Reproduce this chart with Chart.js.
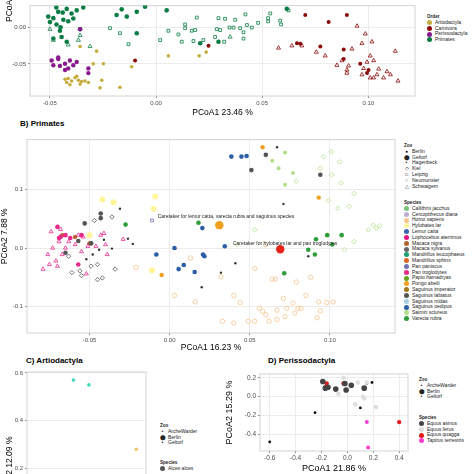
<!DOCTYPE html>
<html><head><meta charset="utf-8">
<script src="https://cdn.jsdelivr.net/npm/chart.js@4"></script>
<style>
body{margin:0;width:474px;height:474px;overflow:hidden;background:#fff;font-family:"Liberation Sans",Arial,sans-serif;position:relative}
canvas{position:absolute}
.t{position:absolute;font-weight:bold;font-size:8px;color:#000;white-space:nowrap}
.lg{position:absolute;font-size:5px;color:#222;white-space:nowrap;line-height:5.8px}
.lg b{font-size:4.6px}
.lg i{display:inline-block;width:5px;height:5px;border-radius:50%;margin-right:3px;vertical-align:middle;font-style:normal}
.rot{position:absolute;transform:rotate(-90deg);transform-origin:left top;font-size:8.5px;white-space:nowrap;color:#000}
</style></head><body>
<canvas id="cA"></canvas><canvas id="cB"></canvas><canvas id="cC"></canvas><canvas id="cD"></canvas>
<div class="rot" style="left:4px;top:22px">PCoA2 13.52 %</div>
<div class="rot" style="left:4px;top:497px">PCoA2 12.09 %</div>
<div class="t" style="left:20px;top:119px">B) Primates</div>
<div class="t" style="left:26px;top:356px">C) Artiodactyla</div>
<div class="t" style="left:268px;top:356px">D) Perissodactyla</div>
<div id="legends"></div>
<script>
// ---------- Panel A data (order) ----------
const orderNames = ["Artiodactyla","Carnivora","Perissodactyla","Primates"];
const orderColors = ["#c4ad3d","#8b0a0a","#8a1a8f","#0a7d45"];
const primFilled = [[-0.0508,0.0145],[-0.0484,0.0124],[-0.0461,0.021],[-0.0437,0.0103],[-0.0469,0.0038],[-0.0421,0.025],[-0.0398,0.0188],[-0.0453,-0.0047],[-0.0414,0.0081],[-0.0374,0.023],[-0.0445,-0.0132],[-0.0343,0.027],[-0.0484,-0.0154],[-0.0421,-0.0197],[-0.0358,-0.0026],[-0.0162,0.0244],[-0.0091,0.021],[-0.0052,0.028],[0.005,0.023],[0.0208,-0.0218],[0.0294,-0.0197],[0.0616,0.0252],[-0.0186,0.0167],[-0.0138,0.0145],[-0.0091,-0.0081],[-0.047,0.027],[-0.044,0.02],[-0.05,0.007],[-0.039,0.012],[-0.045,0.0]];
const primSquares = [[-0.0217,-0.0013],[-0.017,-0.0081],[-0.013,-0.0231],[0.0019,-0.0175],[0.0058,-0.0047],[0.0105,-0.0098],[0.0121,-0.0197],[0.0137,0.0038],[0.0137,-0.0013],[0.0168,-0.0047],[0.0184,-0.0038],[0.0192,0.0132],[0.0176,-0.0188],[0.0223,-0.0175],[0.0286,-0.0026],[0.0294,0.0124],[0.0325,0.0115],[0.0302,-0.0038],[0.0278,-0.0132],[0.0321,-0.0197],[0.0346,-0.0004],[0.0365,-0.0004],[0.0373,0.0103],[0.0396,-0.0013],[0.0412,-0.0068],[0.0421,0.0175],[0.0428,0.003],[0.0451,-0.0004],[0.0481,0.006],[0.0528,0.0081],[0.0538,0.0188],[0.0528,0.0124],[0.0585,0.009],[0.0589,0.0038],[0.0624,0.023],[0.0412,-0.0154]];
const primTriangles = [[0.0349,-0.0132],[-0.0311,-0.0261],[-0.0414,-0.0239],[-0.0484,-0.0175],[-0.05,-0.0026],[-0.0358,-0.0111],[-0.0366,-0.0175]];
const carnTriangles = [[0.0577,-0.0282],[0.064,-0.0252],[0.0687,-0.0252],[0.0755,-0.0338],[0.0797,-0.0389],[0.0852,-0.0517],[0.0876,-0.0453],[0.0899,-0.0581],[0.0907,-0.0526],[0.0923,-0.0295],[0.0947,0.0017],[0.097,-0.0218],[0.0986,-0.009],[0.1009,-0.0389],[0.1017,-0.0197],[0.0994,-0.0474],[0.1025,-0.0453],[0.097,-0.0645],[0.1009,-0.0688],[0.1025,-0.0688],[0.1041,-0.0645],[0.1049,-0.0568],[0.1072,-0.0688],[0.1088,-0.0603],[0.1104,-0.0645],[0.1127,-0.0325],[0.114,-0.0731],[0.0978,-0.056],[0.0899,-0.0624]];
const carnFilled = [[0.0664,-0.0218],[0.068,-0.0226],[0.0884,-0.0303],[0.0884,-0.0432],[0.0962,-0.0496],[0.0994,-0.0624],[0.0703,0.0167],[0.0774,-0.0261],[0.0813,0.0073],[0.0899,0.0167],[0.1001,-0.0581],[-0.0099,-0.0453],[0.0247,-0.0252]];
const perisso = [[-0.0492,-0.0453],[-0.0484,-0.0517],[-0.0461,-0.0432],[-0.0453,-0.0526],[-0.0429,-0.0496],[-0.0414,-0.056],[-0.0406,-0.0453],[-0.039,-0.0517],[-0.0374,-0.0474],[-0.0429,-0.0581],[-0.0461,-0.041],[-0.0319,-0.056],[-0.0319,-0.0624],[-0.0358,-0.0026]];
const artio = [[-0.0429,-0.0709],[-0.0414,-0.0697],[-0.0398,-0.0731],[-0.0382,-0.0688],[-0.0366,-0.0722],[-0.0351,-0.0739],[-0.0335,-0.0731],[-0.0319,-0.0752],[-0.0406,-0.0782],[-0.0374,-0.0667],[-0.0358,-0.0774],[-0.0421,-0.0752],[-0.028,-0.0325],[-0.0248,-0.0496],[-0.0264,-0.0825],[-0.0256,-0.0722],[-0.017,-0.0816],[-0.0115,-0.0538],[0.0058,-0.0389],[0.0203,-0.0389],[0.0236,-0.0338],[-0.0296,-0.0496],[-0.0358,-0.0261]];

// ---------- Panel B data (primate species) ----------
const zooNames = ["Berlin","Geltorf","Hagenbeck","Kiel","Leipzig","Neumunster","Schwaigern"];
const zooSymbols = ["●","⬤","•","◇","□","○","△"];
const speciesNames = ["Callithrix jacchus","Cercopithecus diana","Homo sapiens","Hylobates lar","Lemur catta","Lophocebus aterrimus","Macaca nigra","Macaca sylvanus","Mandrillus leucophaeus","Mandrillus sphinx","Pan paniscus","Pan troglodytes","Papio hamadryas","Pongo abelii","Saguinus imperator","Saguinus labiatus","Saguinus midas","Saguinus oedipus","Saimiri sciureus","Varecia rubra"];
const speciesColors = ["#74c476","#beaed4","#f9c48e","#fff59a","#3a64ae","#e6137f","#b5652a","#666666","#1b9e77","#d9661f","#7570b3","#e7298a","#66a61e","#f0a01e","#a6761d","#555555","#a6cee3","#2b5fa6","#b2df8a","#2e9e3a"];
const panOpen = [[-0.079,-0.036],[-0.076,-0.011],[-0.074,0.028],[-0.073,0],[-0.071,-0.022],[-0.069,0.011],[-0.068,0.032],[-0.067,-0.011],[-0.075,-0.028],[-0.07,-0.031],[-0.065,0],[-0.063,0.011],[-0.059,0.006],[-0.057,0.022],[-0.054,0.019],[-0.055,-0.006],[-0.052,-0.044],[-0.051,0.003],[-0.046,0.003],[-0.043,0.022],[-0.041,0.025],[-0.04,0.006],[-0.039,-0.011],[-0.029,0.015]];
const panFilled = [[-0.07,0.036],[-0.068,0.019],[-0.065,0.022],[-0.062,0.017],[-0.055,0.022],[-0.057,-0.028],[-0.069,0.017]];
const saimiriOpen = [[0.101,0.164],[0.096,0.156],[0.106,0.147],[0.101,0.125],[0.094,0.136],[0.107,0.111],[0.115,0.093],[0.099,0.081],[0.112,0.071],[0.105,0.068],[0.079,0.114],[0.124,0.031],[0.127,0.039],[0.129,0.034],[0.131,0.038],[0.115,0.011],[0.109,-0.003],[0.053,0.031],[0.042,0.006]];
const saimiriFilled = [[0.064,0.149],[0.068,0.136],[0.072,0.108],[0.072,0.163],[0.077,0.128]];
const homoOpen = [[-0.021,-0.033],[0.013,-0.017],[0.003,-0.081],[0.016,-0.092],[0.032,-0.049],[0.04,-0.081],[0.044,-0.093],[0.049,-0.125],[0.053,-0.125],[0.04,-0.128],[0.053,-0.035],[0.056,-0.103],[0.058,-0.108],[0.06,-0.114],[0.064,-0.053],[0.066,-0.053],[0.067,-0.106],[0.071,-0.086],[0.072,-0.117],[0.067,-0.122],[0.073,-0.103],[0.077,-0.094],[0.08,-0.103],[0.082,-0.103],[0.078,-0.111],[0.079,-0.058],[0.085,-0.081],[0.088,-0.05],[0.093,-0.092],[0.094,-0.107],[0.098,-0.093],[0.102,-0.092],[0.092,-0.119],[0.06,0.006],[0.033,-0.125],[0.062,-0.125]];
const oedipus = [[0.0385,0.156],[0.0448,0.156],[0.048,0.157],[-0.0083,-0.011],[0.003,0],[0.0056,-0.036],[0.0088,-0.029],[0.0156,-0.041],[0.0204,0.034],[0.0208,-0.011],[0.0217,-0.014],[0.0344,0.003]];
const varecia = [[0.0865,-0.003],[0.0906,-0.011],[0.0913,0.015],[0.0983,0.022],[0.1073,0.022],[0.1015,0.006],[0.0715,-0.043],[0.018,0.043],[-0.0275,0.04]];
const pongoBig = [[0.031,0.039]];
const pongo = [[0.093,0.086],[-0.005,-0.046],[0.058,0.172]];
const hylobates = [[-0.042,0.083],[-0.035,0.078],[-0.009,0.088],[-0.01,0.067],[-0.011,-0.038],[-0.05,0.022]];
const caretakerRed = [[0.069,-0.002]];
const greyFilled = [[0.06,0.159],[0.051,0.133],[0.094,0.125],[-0.053,0.042],[-0.043,0.059],[-0.043,0.051],[-0.057,0.012],[-0.049,0.008],[-0.065,-0.008]];
const greyOpen = [[-0.036,0.053],[-0.047,0.047],[-0.034,-0.036],[-0.045,-0.028],[-0.042,-0.051],[-0.045,-0.054],[-0.056,-0.039],[-0.055,-0.047],[-0.049,-0.031],[-0.061,-0.042],[-0.063,-0.014]];
const paniscusSq = [[-0.011,0.047]];
const blackSmall = [[0.067,0.172],[0.071,0.075],[0.0865,-0.014],[0.041,-0.026],[0.032,-0.042],[0.02,-0.067],[0.0035,-0.001],[-0.023,0.007],[-0.036,-0.001],[-0.031,0.067],[-0.026,0.016],[-0.041,0.014],[-0.044,-0.003],[-0.048,-0.011],[-0.052,-0.019]];
const nigra = [[-0.05,0.008],[-0.049,0.008],[-0.067,0.022],[-0.059,0.019]];
const notesB = [{x:-0.0075,y:0.053,text:"Caretaker for lemur catta, varecia rubra and saguinus species"},{x:0.0395,y:0.008,text:"Caretaker for hylobates lar and pan troglodytes"}];

// ---------- Panel C ----------
const artioPointsCyan = [[1.85,0.57],[2.65,0.55]];
const artioPointsOrange = [[5.1,0.28]];
const zooC = ["ArcheWarder","Berlin","Geltorf"];

// ---------- Panel D ----------
const periSpecies = ["Equus asinus","Equus ferus","Equus quagga","Tapirus terrestris"];
const periColors = ["#444444","#dddddd","#e31a1c","#ff3fd0"];
const asinusBig = [[-0.19,0.16],[-0.17,0.09],[-0.15,0.1],[-0.09,0.08],[-0.02,0.14],[0.03,0.12],[-0.01,0.07],[0.13,0.09]];
const blackD = [[0.15,0.14],[0.19,0.15],[0.1,-0.12],[-0.25,-0.17],[-0.6,-0.48]];
const ferus = [[-0.03,0.2],[-0.07,0.03],[0.06,-0.08],[0.12,0],[0.13,-0.02],[0.22,-0.11],[0.15,0.15],[0.08,0.15]];
const quagga = [[-0.16,0.14],[-0.03,0.14],[0.4,-0.27],[-0.17,0.1]];
const tapirus = [[0.15,-0.27],[0.16,-0.54]];

// ---------- helpers ----------
function ds(arr,color,style,open,r){
  return {data:arr.map(p=>({x:p[0],y:p[1]})),pointStyle:style,pointRadius:r,
    backgroundColor:open?'rgba(0,0,0,0)':color,borderColor:color,borderWidth:open?0.8:0,showLine:false};
}
const notesPlugin={id:'notes',afterDatasetsDraw(c){const n=c.options.plugins.notes;if(!n||!n.items)return;const g=c.ctx;g.save();g.font='5px "Liberation Sans"';g.fillStyle='#222';g.textBaseline='middle';
  n.items.forEach(a=>g.fillText(a.text,c.scales.x.getPixelForValue(a.x),c.scales.y.getPixelForValue(a.y)));g.restore();}};
const boxPlugin={id:'box',beforeDatasetsDraw(c){const a=c.chartArea,g=c.ctx;g.save();g.strokeStyle='#d4d4d4';g.lineWidth=1;g.strokeRect(a.left,a.top,a.right-a.left,a.bottom-a.top);g.restore();}};
function tickFmt(step,d){return v=>{const k=v/step;return Math.abs(k-Math.round(k))<1e-6?(Math.abs(v)<1e-9?0:v).toFixed(d):'';};}
function make(id,b,xr,yr,datasets,o){
  const cv=document.getElementById(id);cv.style.left=b.left+'px';cv.style.top=b.top+'px';
  cv.width=b.w;cv.height=b.h;cv.style.width=b.w+'px';cv.style.height=b.h+'px';
  const xh=b.top+b.h-b.plotB, yw=b.plotL-b.left;
  const tf=o.tickSize||6, tt=o.titleSize||8.5;
  new Chart(cv,{type:'scatter',data:{datasets},plugins:[notesPlugin,boxPlugin],options:{
    responsive:false,animation:false,events:[],
    layout:{padding:{top:b.plotT-b.top,right:b.left+b.w-b.plotR,left:0,bottom:0}},
    plugins:{legend:{display:false},tooltip:{enabled:false},notes:{items:o.notes||[]}},
    scales:{
      x:{type:'linear',min:xr[0],max:xr[1],display:o.xDisplay!==false,afterFit:s=>{s.height=xh;},
        ticks:{stepSize:xr[2],includeBounds:false,autoSkip:false,maxRotation:0,font:{size:tf},color:'#4d4d4d',padding:o.xPad||2,callback:tickFmt(xr[2],xr[3])},
        grid:{color:'#ececec',tickLength:2,tickColor:'#888'},border:{display:false},
        title:{display:!!o.xTitle,text:o.xTitle,font:{size:tt},color:'#000',padding:{top:o.xtPad||0,bottom:0}}},
      y:{type:'linear',min:yr[0],max:yr[1],afterFit:s=>{s.width=yw;},
        ticks:{stepSize:yr[2],includeBounds:false,autoSkip:false,font:{size:tf},color:'#4d4d4d',padding:2,callback:tickFmt(yr[2],yr[3])},
        grid:{color:'#ececec',tickLength:2,tickColor:'#888'},border:{display:false},
        title:{display:!!o.yTitle,text:o.yTitle,font:{size:tt},color:'#000',padding:{top:0,bottom:2}}}
    }}});
}
// Panel A
make('cA',{left:0,top:0,w:420,h:118,plotL:30,plotT:0,plotR:415,plotB:96},[-0.0594,0.122,0.05,2],[-0.0936,0.0295,0.05,2],[
  ds(carnTriangles,orderColors[1],'triangle',true,2.3),ds(primSquares,orderColors[3],'rect',true,2),
  ds(primTriangles,orderColors[3],'triangle',true,2.3),ds(artio,orderColors[0],'circle',false,1.8),
  ds(perisso,orderColors[2],'circle',false,2.2),ds(primFilled,orderColors[3],'circle',false,2.3),
  ds(carnFilled,orderColors[1],'circle',false,2)],{xTitle:'PCoA1 23.46 %'});
// Panel B
make('cB',{left:0,top:134,w:400,h:219,plotL:27,plotT:136,plotR:395,plotB:333},[-0.089,0.1406,0.05,2],[-0.145,0.185,0.1,1],[
  ds(homoOpen,speciesColors[2],'circle',true,2.2),ds(saimiriOpen,speciesColors[18],'rectRot',true,2.3),
  ds(saimiriFilled,speciesColors[18],'circle',false,2),ds(panOpen,speciesColors[11],'triangle',true,2.3),
  ds(panFilled,speciesColors[11],'circle',false,2.3),ds(greyOpen,'#555555','rectRot',true,2.2),
  ds(paniscusSq,speciesColors[10],'rect',true,2),ds(hylobates,speciesColors[3],'circle',false,3),
  ds(greyFilled,'#555555','circle',false,2.3),ds(nigra,speciesColors[6],'circle',false,2.2),
  ds(oedipus,speciesColors[17],'circle',false,2.3),ds(varecia,speciesColors[19],'circle',false,2.3),
  ds(pongo,speciesColors[13],'circle',false,2.2),ds(pongoBig,speciesColors[13],'circle',false,4.2),
  ds(caretakerRed,'#e8231b','circle',false,4.2),ds(blackSmall,'#333333','circle',false,1.2)],
  {xTitle:'PCoA1 16.23 %',yTitle:'PCoA2 7.88 %',notes:notesB});
// Panel C
make('cC',{left:0,top:365,w:150,h:140,plotL:27,plotT:372,plotR:150,plotB:505},[-0.55,5.6,1,0],[0.07,0.604,0.2,1],[
  ds(artioPointsCyan,'#3ddbc0','circle',false,1.8),ds(artioPointsOrange,'#f2c46a','circle',false,1.8)],{xDisplay:false});
// Panel D
make('cD',{left:224,top:368,w:188,h:106,plotL:260,plotT:372,plotR:412,plotB:451},[-0.675,0.468,0.2,1],[-0.576,0.241,0.2,1],[
  ds(ferus,periColors[1],'circle',false,2.2),ds(asinusBig,periColors[0],'circle',false,2.8),
  ds(quagga,periColors[2],'circle',false,2.2),ds(tapirus,periColors[3],'circle',false,2),
  ds(blackD,'#111111','circle',false,1.4)],{xTitle:'PCoA1 21.86 %',yTitle:'PCoA2 15.29 %',tickSize:6.5,titleSize:9,xPad:1});

// ---------- legends (HTML) ----------
function legend(x,y,title,names,marks){
  let h='<b>'+title+'</b><br>';
  names.forEach((n,i)=>{h+=marks(i)+n+'<br>';});
  const d=document.createElement('div');d.className='lg';d.style.left=x+'px';d.style.top=y+'px';d.innerHTML=h;
  document.getElementById('legends').appendChild(d);
}
const dot=c=>'<i style="background:'+c+'"></i>';
const sym=s=>'<span style="display:inline-block;width:5px;margin-right:3px;text-align:center">'+s+'</span>';
legend(427,14,'Order',orderNames,i=>dot(orderColors[i]));
legend(404,143,'Zoo',zooNames,i=>sym(zooSymbols[i]));
legend(404,200,'Species',speciesNames,i=>dot(speciesColors[i]));
legend(160,423,'Zoo',zooC,i=>sym(["•","⬤","•"][i]));
legend(160,460,'Species',["Alces alces"],i=>dot('#555555'));
legend(419,377,'Zoo',zooC,i=>sym(["•","⬤","•"][i]));
legend(419,415,'Species',periSpecies,i=>dot(periColors[i]));
</script></body></html>
